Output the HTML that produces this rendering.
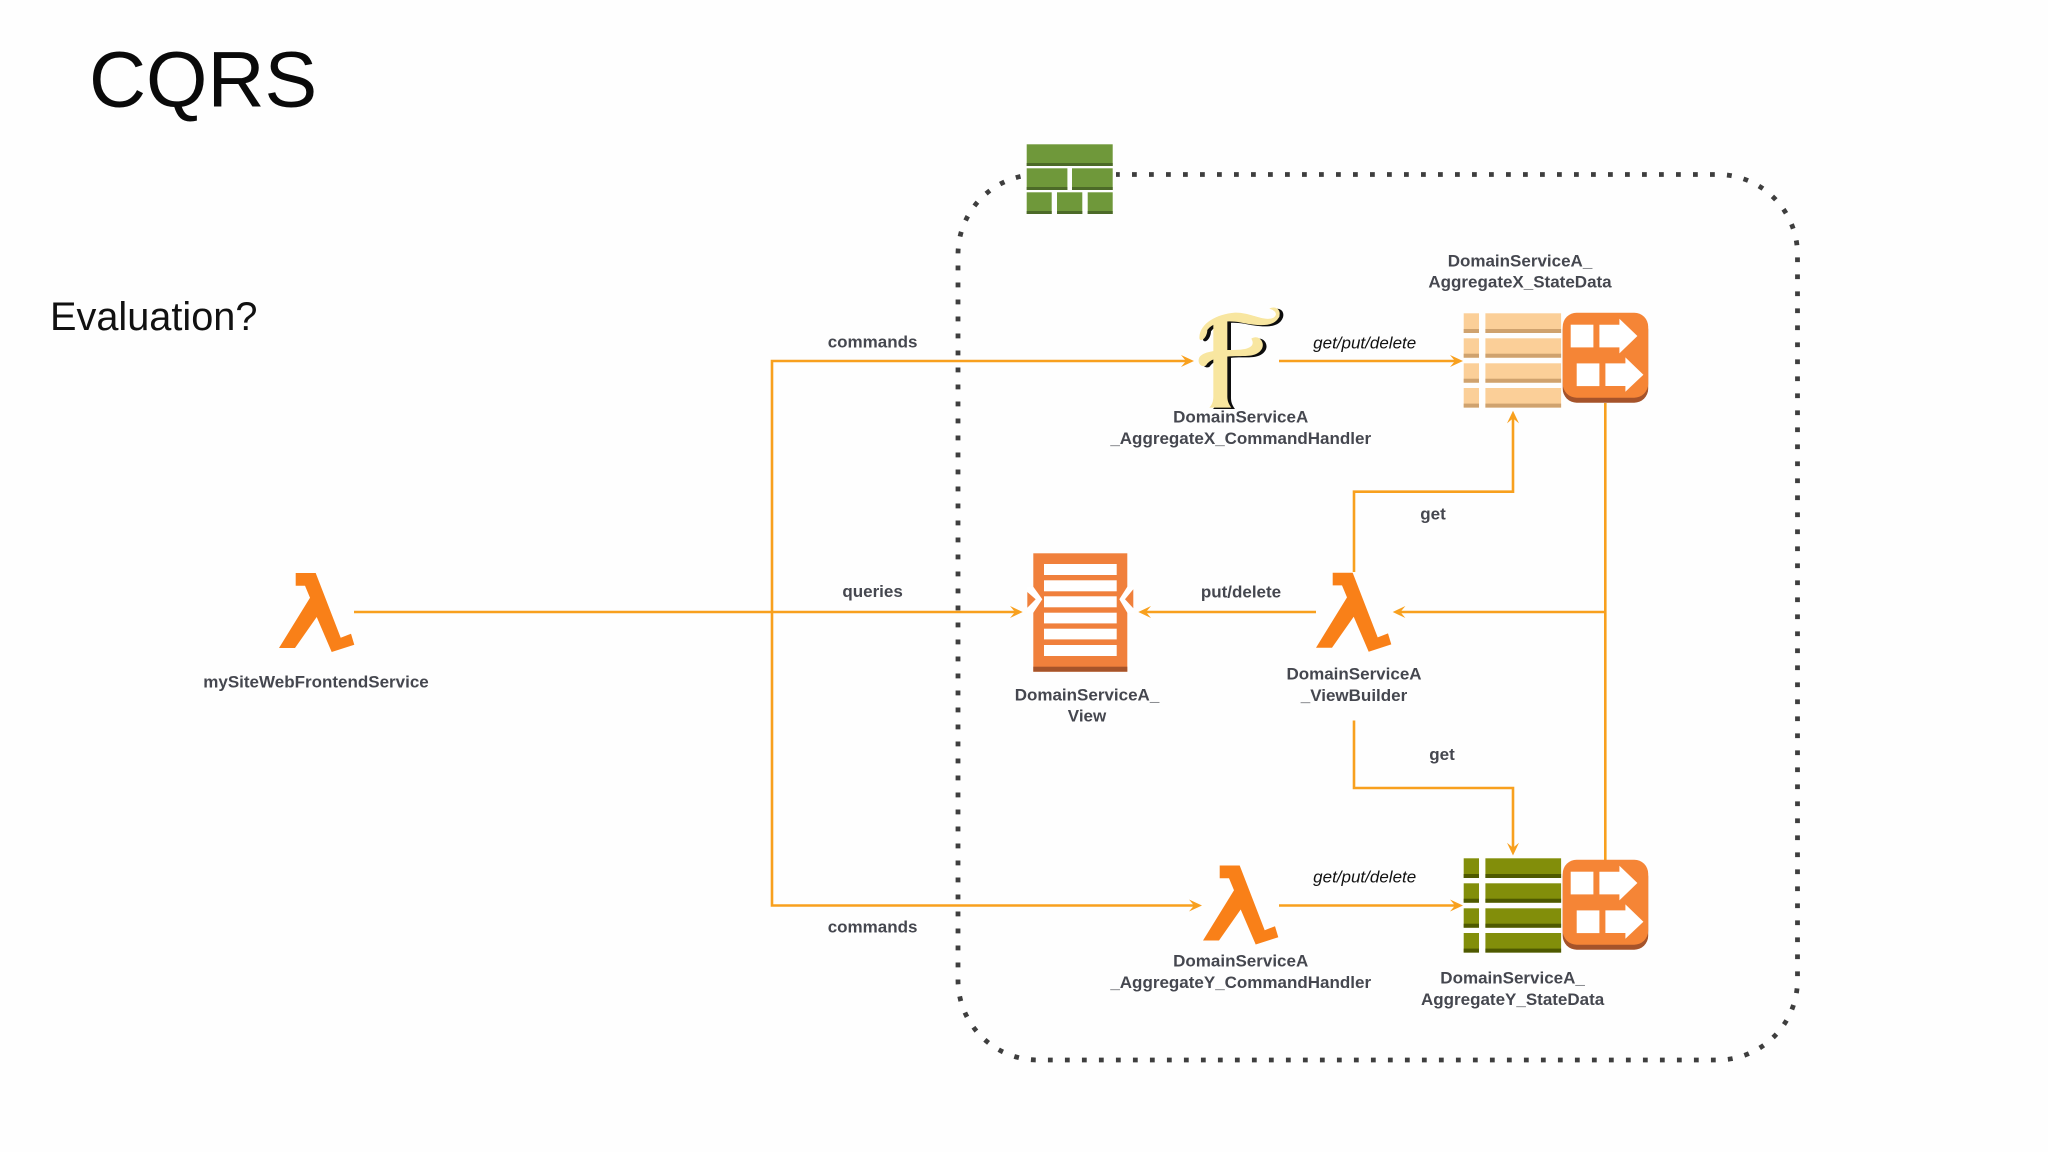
<!DOCTYPE html>
<html><head><meta charset="utf-8"><title>CQRS</title>
<style>
html,body{margin:0;padding:0;background:#fefefe}
svg{display:block;filter:blur(.35px)}
text{font-family:"Liberation Sans",sans-serif}
.l{font-size:17px;font-weight:bold;fill:#45474f;text-anchor:middle}
.i{font-size:17px;font-style:italic;fill:#111;text-anchor:middle}
.c{fill:none;stroke:#f8a01e;stroke-width:2.6}
.a{fill:#f8a01e}
</style></head><body>
<svg width="2048" height="1152" viewBox="0 0 2048 1152" xmlns="http://www.w3.org/2000/svg">
<defs>
<filter id="b" x="-30%" y="-30%" width="160%" height="160%"><feGaussianBlur stdDeviation="1"/></filter>
<polygon id="lam" fill="#f98018" points="16.7,0 36.7,0 61.7,64.7 72,60.7 75.3,71.7 52.7,79 37.7,44 16,75 0,75 31,24.7 26,12.7 16.7,12.7"/>
<g id="dax">
<rect x="0" y="3" width="85.5" height="87" rx="14" fill="#a5532a"/>
<rect x="0" y="0" width="85.5" height="85" rx="14" fill="#f58536"/>
<g fill="#fff">
<rect x="8" y="12" width="22.7" height="22.7"/>
<polygon points="36.7,12 56.7,12 56.7,6 74.7,23.3 56.7,40.7 56.7,34.7 36.7,34.7"/>
<rect x="14" y="50.7" width="22.7" height="22.7"/>
<polygon points="42.7,50.7 62.7,50.7 62.7,44.7 80.7,62 62.7,79 62.7,73.3 42.7,73.3"/>
</g>
</g>
<g id="tbl">
<rect x="0" y="0" width="15.3" height="19.7" fill="var(--t)"/><rect x="21.7" y="0" width="75.7" height="19.7" fill="var(--t)"/>
<rect x="0" y="25" width="15.3" height="19.4" fill="var(--t)"/><rect x="21.7" y="25" width="75.7" height="19.4" fill="var(--t)"/>
<rect x="0" y="50" width="15.3" height="19.4" fill="var(--t)"/><rect x="21.7" y="50" width="75.7" height="19.4" fill="var(--t)"/>
<rect x="0" y="74.7" width="15.3" height="19.6" fill="var(--t)"/><rect x="21.7" y="74.7" width="75.7" height="19.6" fill="var(--t)"/>
<g fill="var(--d)">
<rect x="0" y="15.7" width="15.3" height="4"/><rect x="21.7" y="15.7" width="75.7" height="4"/>
<rect x="0" y="40.4" width="15.3" height="4"/><rect x="21.7" y="40.4" width="75.7" height="4"/>
<rect x="0" y="65.4" width="15.3" height="4"/><rect x="21.7" y="65.4" width="75.7" height="4"/>
<rect x="0" y="90.3" width="15.3" height="4"/><rect x="21.7" y="90.3" width="75.7" height="4"/>
</g>
</g>
<g id="fpath">
<path d="M640 575 L682 572 L682 800 C682 815 688 825 694 833 L628 833 C636 825 640 815 640 800 Z"/>
<path d="M598 622 C600 580 650 552 705 548 C750 546 795 578 822 562 C834 553 826 541 808 536 C825 526 844 538 838 558 C825 596 765 586 720 577 C680 570 640 575 622 600 C622 615 612 630 604 630 C600 630 598 628 598 622 Z"/>
<path d="M598 682 C612 662 660 660 700 660 C745 660 768 650 754 626 C775 612 796 636 786 656 C768 688 720 674 680 680 C650 682 628 690 618 706 C606 714 590 700 598 682 Z"/>
</g>
</defs>
<rect width="2048" height="1152" fill="#fefefe"/>

<text x="89" y="106.5" font-size="79" fill="#0a0a0a">CQRS</text>
<text x="50" y="330" font-size="39.7" fill="#111">Evaluation?</text>

<!-- boundary -->
<rect x="958" y="174.5" width="839.5" height="885.5" rx="80" ry="80" fill="none" stroke="#3e3e3e" stroke-width="4.8" stroke-dasharray="4.8 12.2" stroke-dashoffset="8"/>

<!-- firewall -->
<g>
<rect x="1024" y="142" width="92" height="74" fill="#fefefe"/>
<rect x="1026.7" y="144.3" width="86" height="21.7" fill="#6f983a"/>
<rect x="1026.7" y="168.3" width="40.7" height="21.7" fill="#6f983a"/>
<rect x="1072" y="168.3" width="40.7" height="21.7" fill="#6f983a"/>
<rect x="1026.7" y="192.3" width="25" height="21.7" fill="#6f983a"/>
<rect x="1057" y="192.3" width="25.3" height="21.7" fill="#6f983a"/>
<rect x="1087.7" y="192.3" width="25" height="21.7" fill="#6f983a"/>
<g fill="#4c6a28">
<rect x="1026.7" y="163" width="86" height="3"/>
<rect x="1026.7" y="187" width="40.7" height="3"/>
<rect x="1072" y="187" width="40.7" height="3"/>
<rect x="1026.7" y="211" width="25" height="3"/>
<rect x="1057" y="211" width="25.3" height="3"/>
<rect x="1087.7" y="211" width="25" height="3"/>
</g>
</g>

<!-- connectors -->
<path class="c" d="M354 612H1016"/>
<path class="c" d="M1188 361H772V905.5H1196"/>
<path class="c" d="M1279 361H1457"/>
<path class="c" d="M1279 905.5H1457"/>
<path class="c" d="M1316 612H1145"/>
<path class="c" d="M1605.3 403V860"/>
<path class="c" d="M1605.3 612H1399"/>
<path class="c" d="M1354 572V491.7H1513V417"/>
<path class="c" d="M1354 720.5V788H1513V849"/>
<polygon class="a" points="1022.7,612 1010,606 1015,612 1010,618"/>
<polygon class="a" points="1194,361 1181,355 1186,361 1181,367"/>
<polygon class="a" points="1202,905.5 1189,899.5 1194,905.5 1189,911.5"/>
<polygon class="a" points="1463,361 1450,355 1455,361 1450,367"/>
<polygon class="a" points="1463,905.5 1450,899.5 1455,905.5 1450,911.5"/>
<polygon class="a" points="1138.3,612 1151,606 1146,612 1151,618"/>
<polygon class="a" points="1392.7,612 1405.4,606 1400.4,612 1405.4,618"/>
<polygon class="a" points="1513,410.7 1507,423.4 1513,418.4 1519,423.4"/>
<polygon class="a" points="1513,855.5 1507,842.8 1513,847.8 1519,842.8"/>

<!-- lambdas -->
<use href="#lam" x="279" y="573"/>
<use href="#lam" x="1316" y="572.7"/>
<use href="#lam" x="1203" y="865.5"/>

<!-- F icon -->
<g transform="translate(1000 130) scale(.33333)">
<use href="#fpath" x="11" y="4" fill="#111" filter="url(#b)"/>
<use href="#fpath" fill="#f8e6a0"/>
</g>

<!-- tables -->
<use href="#tbl" x="1463.7" y="313.3" style="--t:#fbcf98;--d:#cfa26e"/>
<use href="#tbl" x="1463.7" y="858.3" style="--t:#828e0a;--d:#4e5900"/>
<use href="#dax" x="1562.7" y="312.7"/>
<use href="#dax" x="1562.7" y="859.7"/>

<!-- view -->
<g>
<rect x="1033.3" y="553.3" width="94" height="118.4" fill="#f0803c"/>
<rect x="1033.3" y="666.7" width="94" height="5" fill="#a5532a"/>
<g fill="#fff">
<rect x="1044" y="564" width="72.7" height="11"/>
<rect x="1044" y="580.3" width="72.7" height="11"/>
<rect x="1044" y="596.3" width="72.7" height="11"/>
<rect x="1044" y="612.7" width="72.7" height="10.7"/>
<rect x="1044" y="628.7" width="72.7" height="10.7"/>
<rect x="1044" y="645" width="72.7" height="11"/>
<polygon points="1033.3,586.7 1042.3,599.3 1033.3,612.7 1027,612.7 1027,586.7"/>
<polygon points="1127.3,586.7 1119.3,599.3 1127.3,612.7 1134,612.7 1134,586.7"/>
</g>
<polygon fill="#f0803c" points="1027.3,592 1035.7,599.3 1027.3,607.7"/>
<polygon fill="#f0803c" points="1133.3,589.3 1125,599.3 1133.3,608.3"/>
</g>

<!-- labels -->
<text class="l" x="1240.7" y="422.7">DomainServiceA</text>
<text class="l" x="1240.7" y="444">_AggregateX_CommandHandler</text>
<text class="l" x="1520" y="266.7">DomainServiceA_</text>
<text class="l" x="1520" y="287.5">AggregateX_StateData</text>
<text class="l" x="1087" y="700.7">DomainServiceA_</text>
<text class="l" x="1087" y="721.5">View</text>
<text class="l" x="1354" y="679.3">DomainServiceA</text>
<text class="l" x="1354" y="701">_ViewBuilder</text>
<text class="l" x="1240.7" y="966.7">DomainServiceA</text>
<text class="l" x="1240.7" y="988">_AggregateY_CommandHandler</text>
<text class="l" x="1512.6" y="983.4">DomainServiceA_</text>
<text class="l" x="1512.6" y="1005">AggregateY_StateData</text>
<text class="l" x="316" y="687.7">mySiteWebFrontendService</text>
<text class="l" x="872.6" y="347.5">commands</text>
<text class="l" x="872.6" y="597">queries</text>
<text class="l" x="872.6" y="932.5">commands</text>
<text class="l" x="1241" y="597.3">put/delete</text>
<text class="l" x="1433" y="519.6">get</text>
<text class="l" x="1442" y="760">get</text>
<text class="i" x="1364.7" y="348.5">get/put/delete</text>
<text class="i" x="1364.7" y="882.7">get/put/delete</text>
</svg>
</body></html>
